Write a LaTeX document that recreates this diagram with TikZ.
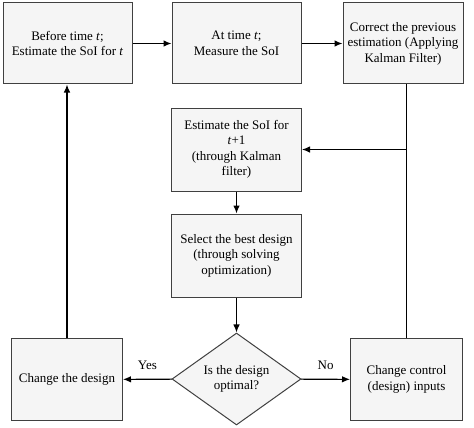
\documentclass[tikz,border=0pt]{standalone}
\usepackage{fontspec}
\setmainfont{Liberation Serif}
\usetikzlibrary{arrows.meta,shapes,calc}

\tikzset{
  stepbox/.style={draw=black!75, line width=1pt, fill=gray!8, align=center,
    inner sep=2pt, font=\fontsize{13}{15.5}\selectfont},
  decision/.style={stepbox, diamond, aspect=1.4, inner sep=0pt},
  flow/.style={-{Latex[length=8pt,width=6.5pt]}, line width=1.1pt},
  link/.style={line width=1.1pt},
  tag/.style={above=6pt, font=\fontsize{13}{15}\selectfont}
}

\begin{document}
\begin{tikzpicture}[x=1pt,y=-1pt]
  \useasboundingbox (0,0) rectangle (474,428);
  % Upper row
  \node [stepbox, minimum width=129, minimum height=81] (before) at (67.5,43.5)
    {Before time \textit{t};\\Estimate the SoI for \textit{t}};
  \node [stepbox, minimum width=129, minimum height=81] (attime) at (236.5,43.5)
    {At time \textit{t};\\Measure the SoI};
  \node [stepbox, minimum width=120, minimum height=81] (correct) at (403,43.5)
    {Correct the previous\\estimation (Applying\\Kalman Filter)};
  % Middle column
  \node [stepbox, minimum width=130, minimum height=83] (estimate) at (236.5,149.5)
    {Estimate the SoI for\\\textit{t}+1\\(through Kalman\\filter)};
  \node [stepbox, minimum width=130, minimum height=83] (select) at (236.5,255.5)
    {Select the best design\\(through solving\\optimization)};
  % Lower row
  \node [decision, minimum width=129, minimum height=92] (optimal) at (236.5,379)
    {Is the design\\optimal?};
  \node [stepbox, minimum width=111, minimum height=82] (change) at (67,379.5)
    {Change the design};
  \node [stepbox, minimum width=112, minimum height=82] (control) at (406.5,379.5)
    {Change control\\(design) inputs};
  % Draw connectors
  \draw [flow] (before) -- (attime);
  \draw [flow] (attime) -- (correct);
  \coordinate (top) at (control.north |- correct.south);
  \coordinate (joint) at (control.north |- estimate.east);
  \draw [link] (top) -- (control.north);
  \draw [flow] (joint) -- (estimate.east);
  \draw [flow] (estimate) -- (select);
  \draw [flow] (select) -- (optimal);
  \draw [flow] (optimal) -- node [tag] {Yes} (change);
  \draw [flow] (optimal) -- node [tag] {No} (control);
  \draw [flow] (change.north) -- (change.north |- before.south);
\end{tikzpicture}
\end{document}
